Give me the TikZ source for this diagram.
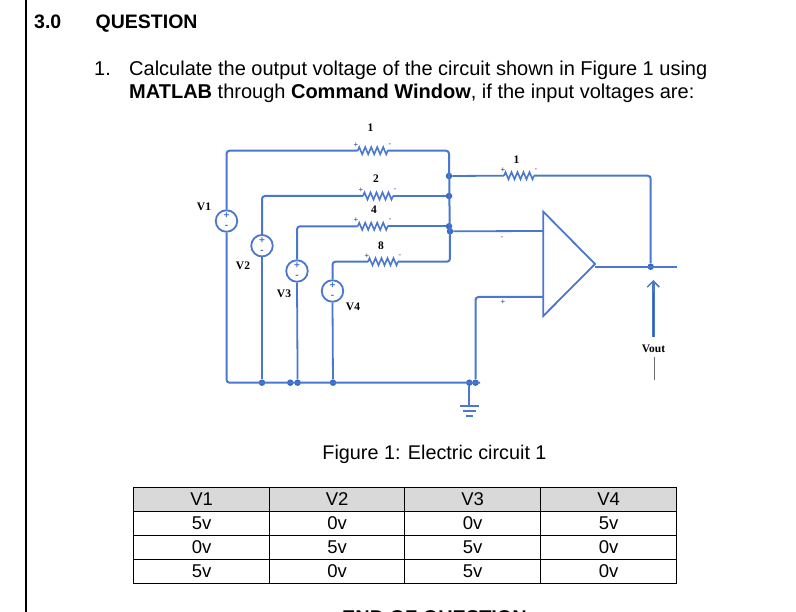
\documentclass[tikz,border=0pt]{standalone}
\usepackage{fontspec}
\setmainfont{Liberation Sans}
\newfontfamily\serifb{Liberation Serif}[Scale=1]
\usetikzlibrary{decorations.pathmorphing,arrows.meta}
\definecolor{wireblue}{HTML}{4A78CF}
\definecolor{dotblue}{HTML}{3568C8}
\definecolor{headgrey}{HTML}{D9D9D9}
\tikzset{
  x=1pt,y=-1pt,
  wire/.style={draw=wireblue,line width=2pt,rounded corners=3pt},
  thinwire/.style={draw=wireblue,line width=1.8pt},
  res/.style={draw=wireblue,line width=1.6pt,decoration={zigzag,segment length=6pt,amplitude=3.6pt},decorate},
  dot/.style={circle,fill=dotblue,inner sep=0pt,minimum size=6.5pt},
  src/.style={circle,draw=wireblue,line width=1.8pt,fill=white,minimum size=21.5pt,inner sep=0pt},
  val/.style={font=\serifb\bfseries\fontsize{11.5}{12}\selectfont,text=black,inner sep=0pt},
  pol/.style={font=\fontsize{8}{8}\selectfont,text=wireblue!60!black,inner sep=0pt},
  srcsign/.style={font=\bfseries\fontsize{10}{10}\selectfont,text=wireblue,inner sep=0pt},
  body/.style={font=\fontsize{20}{20}\selectfont,text=black,inner sep=0pt,anchor=base west},
  head/.style={font=\bfseries\fontsize{19.5}{20}\selectfont,text=black,inner sep=0pt,anchor=base west},
  cell/.style={draw=black,line width=1.1pt,minimum height=24pt,inner sep=0pt,font=\fontsize{18.5}{19}\selectfont},
  hcell/.style={cell,fill=headgrey},
}
\begin{document}
\begin{tikzpicture}
\useasboundingbox (0,0) rectangle (796,612);
\clip (0,0) rectangle (796,612);
\fill[white] (0,0) rectangle (796,612);
% page border
\coordinate (bt) at (26,0); \coordinate (bb) at (26,612);
\draw[black,line width=1.2pt] (bt) -- (bb);
% text
\node[head] (sec) at (34,29) {3.0};
\node[head] (qn) at (95.5,29) {QUESTION};
\node[body] (num) at (94,75.7) {1.};
\node[body] (l1) at (129,75.7) {Calculate the output voltage of the circuit shown in Figure 1 using};
\node[body] (l2) at (129,98.7) {\textbf{MATLAB} through \textbf{Command Window}, if the input voltages are:};
\node[font=\fontsize{19.8}{20}\selectfont,inner sep=0pt,anchor=base] (cap) at (434.5,460) {Figure 1: Electric circuit 1};
\node[font=\bfseries\fontsize{19.9}{20}\selectfont,inner sep=0pt,anchor=base] (eoq) at (434.5,624) {END OF QUESTION};
% sources
\node[src] (s1) at (226.5,221) {};
\node[src] (s2) at (262,245.7) {};
\node[src] (s3) at (297,271) {};
\node[src] (s4) at (332.5,291) {};
\foreach \s in {s1,s2,s3,s4}{
  \node[srcsign] at ([yshift=5pt]\s.center) {+};
  \node[srcsign] at ([yshift=-6pt]\s.center) {-};
}
% corners and resistor ends
\coordinate (r1a) at (357.7,150.7); \coordinate (r1b) at (388,150.7);
\coordinate (r2a) at (363,196);     \coordinate (r2b) at (393,196);
\coordinate (r4a) at (357.7,226.3); \coordinate (r4b) at (388,226.3);
\coordinate (r8a) at (368,261.7);   \coordinate (r8b) at (398,261.7);
\coordinate (rfa) at (504,175.7);   \coordinate (rfb) at (534,175.7);
\coordinate (bustop) at (449,150.7);
\coordinate (busbot) at (450,261.7);
\coordinate (blc) at (226.5,382.7);
\coordinate (bend) at (480,382.7);
\coordinate (fbc) at (650.7,175.7);
\coordinate (outend) at (677,266.7);
% junctions
\node[dot] (j1) at (449,176) {};
\node[dot] (j2) at (449,196) {};
\node[dot] (j3) at (449,226.3) {};
\node[dot] (j4) at (450,231.3) {};
\node[dot] (jo) at (650.7,266.7) {};
\node[dot] (g2) at (262,382.7) {};
\node[dot] (gx) at (290.3,382.7) {};
\node[dot] (g3) at (297.6,382.7) {};
\node[dot] (g4) at (333,382.7) {};
\node[dot] (gg) at (469.3,382.7) {};
\node[dot] (gn) at (475.5,382.7) {};
% wires
\draw[wire] (s1.north) |- (r1a);
\draw[res] (r1a) -- (r1b);
\draw[wire] (r1b) -- (bustop) -- (busbot) -- (r8b);
\draw[res] (r8a) -- (r8b);
\draw[wire] (s4.north) |- (r8a);
\draw[wire] (s2.north) |- (r2a);
\draw[res] (r2a) -- (r2b);
\draw[thinwire] (r2b) -- (j2);
\draw[wire] (s3.north) |- (r4a);
\draw[res] (r4a) -- (r4b);
\draw[thinwire] (r4b) -- (j3);
\draw[wire] (s1.south) -- (blc) -- (bend);
\draw[thinwire] (s2.south) -- (g2);
\draw[thinwire] (s3.south) -- (g3);
\draw[thinwire] (s4.south) -- (g4);
\draw[thinwire] (j1) -- (rfa);
\draw[res] (rfa) -- (rfb);
% op amp
\coordinate (oa) at (543.3,211.7);
\coordinate (ob) at (543.3,316);
\coordinate (oc) at (595,264);
\coordinate (om) at (543.3,231);
\coordinate (op) at (543.3,297);
\coordinate (oo) at (595,266.7);
\draw[thinwire,line join=miter] (oa) -- (oc) -- (ob) -- cycle;
\draw[thinwire] (j4) -- (om);
\draw[wire] (gn) |- (op);
\draw[wire] (rfb) -- (fbc) -- (jo);
\draw[thinwire] (oo) -- (outend);
% ground
\coordinate (g0) at (469.3,406);
\coordinate (g1l) at (459.5,406); \coordinate (g1r) at (479,406);
\coordinate (g2l) at (463,411);   \coordinate (g2r) at (475.5,411);
\coordinate (g3l) at (466,416);   \coordinate (g3r) at (472.5,416);
\draw[thinwire] (gg) -- (g0);
\draw[thinwire] (g1l) -- (g1r);
\draw[thinwire] (g2l) -- (g2r);
\draw[thinwire] (g3l) -- (g3r);
% value labels
\node[val] (t1) at (370.5,128) {1};
\node[val] (t2) at (376,179) {2};
\node[val] (t4) at (374,209.5) {4};
\node[val] (t8) at (381,245.7) {8};
\node[val] (tf) at (516.5,160) {1};
\node[val] (tv1) at (204,207) {V1};
\node[val] (tv2) at (243,265.5) {V2};
\node[val] (tv3) at (284,294) {V3};
\node[val] (tv4) at (353,307) {V4};
\node[val] (vout) at (653.5,349) {Vout};
% polarity marks
\node[pol] at (356,145) {+}; \node[pol] at (390,145) {-};
\node[pol] at (361,190) {+}; \node[pol] at (395,190) {-};
\node[pol] at (356,220) {+}; \node[pol] at (390,220) {-};
\node[pol] at (367,256) {+}; \node[pol] at (400,256) {-};
\node[pol] at (503,170) {+}; \node[pol] at (536,170.5) {-};
\node[pol] at (502,238) {-}; \node[pol] at (503,302) {+};
% Vout arrow
\coordinate (va) at (653.3,337);
\coordinate (vb) at (653.3,280);
\coordinate (vc) at (654.7,357);
\coordinate (vd) at (654.7,380);
\draw[wireblue,line width=3pt] (va) -- ([yshift=-3pt]vb);
\draw[draw=gray!70!black,line width=1.4pt] (va) -- ([yshift=-4pt]vb);
\draw[wireblue,line width=1.5pt,-{Straight Barb[length=6pt,width=12pt]}] ([yshift=-12pt]vb) -- (vb);
\draw[draw=gray!85!black,line width=1.3pt] (vc) -- (vd);
% table
\foreach \ca/\cb/\cc/\cd/\yy/\st [count=\r] in {
  V1/V2/V3/V4/499.3/hcell,
  5v/0v/0v/5v/523.3/cell,
  0v/5v/5v/0v/547.3/cell,
  5v/0v/5v/0v/571.3/cell}{
  \node[\st,minimum width=136.1pt] (tb\r a) at (201.6,\yy) {\ca};
  \node[\st,minimum width=135pt] (tb\r b) at (337.1,\yy) {\cb};
  \node[\st,minimum width=136.1pt] (tb\r c) at (472.6,\yy) {\cc};
  \node[\st,minimum width=136pt] (tb\r d) at (608.7,\yy) {\cd};
}
\end{tikzpicture}
\end{document}
